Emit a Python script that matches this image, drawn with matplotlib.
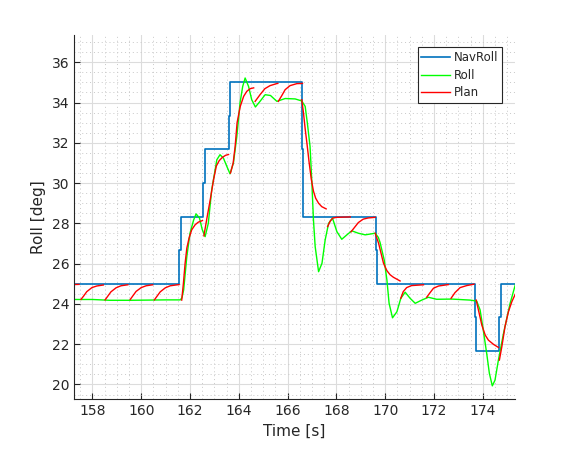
import numpy as np
import matplotlib
matplotlib.use("Agg")
import matplotlib.pyplot as plt

# NavRoll (stairs, post)
nav_t = [157.2, 161.55, 161.62, 162.55, 162.62, 163.58, 163.65, 166.58, 166.65,
         169.62, 169.68, 173.68, 173.74, 174.68, 174.74, 175.4]
nav_v = [25.0, 26.67, 28.33, 30.0, 31.67, 33.33, 35.0, 31.67, 28.33,
         26.67, 25.0, 23.33, 21.67, 23.33, 25.0, 25.0]

# Roll
roll_t = [157.2, 158.0, 158.7, 159.5, 160.3, 161.0, 161.6, 161.67, 161.74, 161.87,
          162.0, 162.15, 162.25, 162.39, 162.5, 162.62, 162.75, 162.89, 162.96, 163.1,
          163.23, 163.37, 163.51, 163.64, 163.78, 163.92, 164.05, 164.16, 164.26, 164.4,
          164.53, 164.68, 164.87, 165.08, 165.3, 165.56, 165.9, 166.31, 166.58, 166.72,
          166.81, 166.92, 166.99, 167.06, 167.13, 167.27, 167.41, 167.54, 167.68, 167.84,
          168.02, 168.22, 168.43, 168.63, 168.9, 169.18, 169.59, 169.72, 169.79, 169.96,
          170.07, 170.16, 170.3, 170.48, 170.64, 170.82, 171.02, 171.23, 171.5, 171.77,
          172.11, 172.73, 173.48, 173.75, 173.89, 174.02, 174.16, 174.27, 174.39, 174.5,
          174.64, 174.85, 175.12, 175.35]
roll_v = [24.22, 24.22, 24.18, 24.18, 24.19, 24.2, 24.2, 24.3, 24.69, 26.35,
          27.51, 28.17, 28.47, 28.26, 27.7, 27.34, 28.0, 29.67, 30.16, 31.16,
          31.41, 31.24, 30.83, 30.46, 31.0, 32.32, 33.98, 34.8, 35.22, 34.8,
          34.14, 33.78, 34.06, 34.39, 34.35, 34.06, 34.2, 34.18, 34.08, 33.81,
          32.98, 31.82, 30.16, 28.17, 26.85, 25.6, 26.02, 27.18, 28.0, 28.26,
          27.59, 27.21, 27.43, 27.63, 27.51, 27.43, 27.51, 27.3, 27.05, 26.18,
          25.19, 24.03, 23.31, 23.61, 24.28, 24.58, 24.28, 24.03, 24.19, 24.33,
          24.23, 24.24, 24.19, 24.14, 23.7, 22.7, 21.54, 20.55, 19.93, 20.21,
          21.21, 22.54, 24.03, 25.02]

# Plan (segments separated by NaN)
nan = np.nan
plan_t = [157.2, 157.45, nan,
          157.53, 157.64, 157.77, 157.98, 158.18, 158.45, nan,
          158.52, 158.63, 158.76, 158.97, 159.17, 159.45, nan,
          159.55, 159.66, 159.79, 160.0, 160.2, 160.47, nan,
          160.54, 160.65, 160.78, 160.99, 161.19, 161.55, nan,
          161.66, 161.73, 161.8, 161.87, 161.96, 162.07, 162.21, 162.34, 162.51, nan,
          162.57, 162.7, 162.84, 162.97, 163.08, 163.2, 163.33, 163.46, 163.58, nan,
          163.66, 163.77, 163.85, 163.93, 164.06, 164.2, 164.33, 164.47, 164.61, nan,
          164.67, 164.87, 165.07, 165.28, 165.55, 165.6, nan,
          165.62, 165.76, 165.9, 166.1, 166.38, 166.61, nan,
          166.58, 166.65, 166.72, 166.8, 166.88, 166.97, 167.06, 167.15, 167.27, 167.4, 167.58, nan,
          167.64, 167.75, 167.85, 168.0, 168.57, nan,
          168.6, 168.77, 168.9, 169.1, 169.31, 169.59, nan,
          169.59, 169.73, 169.83, 169.93, 170.07, 170.2, 170.34, 170.61, nan,
          170.64, 170.74, 170.88, 171.08, 171.57, nan,
          171.7, 171.84, 171.98, 172.19, 172.59, nan,
          172.7, 172.86, 173.07, 173.34, 173.64, nan,
          173.73, 173.82, 173.96, 174.1, 174.23, 174.44, 174.64, nan,
          174.68, 174.78, 174.91, 175.05, 175.19, 175.35]
plan_v = [24.96, 24.97, nan,
          24.22, 24.39, 24.61, 24.81, 24.89, 24.94, nan,
          24.2, 24.38, 24.6, 24.8, 24.9, 24.95, nan,
          24.22, 24.4, 24.62, 24.81, 24.9, 24.95, nan,
          24.2, 24.38, 24.6, 24.8, 24.9, 24.96, nan,
          24.19, 25.02, 26.02, 26.77, 27.26, 27.68, 27.93, 28.06, 28.14, nan,
          27.38, 28.3, 29.25, 30.2, 30.85, 31.12, 31.28, 31.38, 31.42, nan,
          30.5, 31.0, 31.82, 33.0, 33.81, 34.31, 34.56, 34.69, 34.73, nan,
          34.06, 34.39, 34.69, 34.84, 34.94, 34.95, nan,
          34.06, 34.34, 34.64, 34.84, 34.94, 34.95, nan,
          34.14, 33.5, 32.7, 31.9, 31.05, 30.2, 29.6, 29.25, 29.0, 28.83, 28.72, nan,
          27.84, 28.12, 28.26, 28.3, 28.32, nan,
          27.58, 27.84, 28.04, 28.21, 28.27, 28.3, nan,
          27.51, 27.01, 26.52, 26.02, 25.65, 25.45, 25.32, 25.14, nan,
          24.28, 24.61, 24.81, 24.91, 24.95, nan,
          24.33, 24.56, 24.78, 24.89, 24.96, nan,
          24.28, 24.56, 24.81, 24.91, 24.98, nan,
          24.19, 23.7, 22.95, 22.45, 22.2, 21.99, 21.84, nan,
          21.21, 21.87, 22.87, 23.61, 24.11, 24.53]

x_ticks = [158, 160, 162, 164, 166, 168, 170, 172, 174]
y_ticks = [20, 22, 24, 26, 28, 30, 32, 34, 36]

plt.rcParams['font.family'] = ['DejaVu Sans']
fig = plt.figure(figsize=(5.7, 4.5), dpi=100, facecolor='white')
ax = fig.add_axes([0.13, 0.113, 0.7735, 0.809])

ax.step(nav_t, nav_v, where='post', color='#0072BD', lw=1.2, label='NavRoll')
ax.plot(roll_t, roll_v, color='#00FF00', lw=1.0, label='Roll')
ax.plot(plan_t, plan_v, color='#FF0000', lw=1.0, label='Plan')

ax.set_xlim(157.25, 175.32)
ax.set_ylim(19.27, 37.35)
ax.set_xticks(x_ticks)
ax.set_yticks(y_ticks)
ax.set_xticks(np.arange(157.5, 175.5, 0.5), minor=True)
ax.set_yticks(np.arange(19.5, 37.5, 0.5), minor=True)

ax.grid(True, which='major', color='#dcdcdc', lw=0.8, ls='-')
ax.grid(True, which='minor', color='#c8c8c8', lw=0.7, ls=(0, (1, 3)))
ax.set_axisbelow(True)

for s in ['top', 'right']:
    ax.spines[s].set_visible(False)
for s in ['left', 'bottom']:
    ax.spines[s].set_color('#262626')
    ax.spines[s].set_linewidth(0.8)

ax.tick_params(which='major', direction='in', length=4, colors='#262626', labelsize=10)
ax.tick_params(which='minor', length=0)

ax.set_xlabel('Time [s]', fontsize=11, color='#262626')
ax.set_ylabel('Roll [deg]', fontsize=11, color='#262626')

leg = ax.legend(loc='upper right', bbox_to_anchor=(0.971, 0.966), fontsize=8.5,
                frameon=True, fancybox=False, edgecolor='#262626', framealpha=1,
                handlelength=2.45, handletextpad=0.35, borderpad=0.3,
                labelspacing=0.4, borderaxespad=0)
leg.get_frame().set_linewidth(0.8)
for t in leg.get_texts():
    t.set_color('#262626')

fig.savefig('out.png', dpi=100, facecolor='white')
